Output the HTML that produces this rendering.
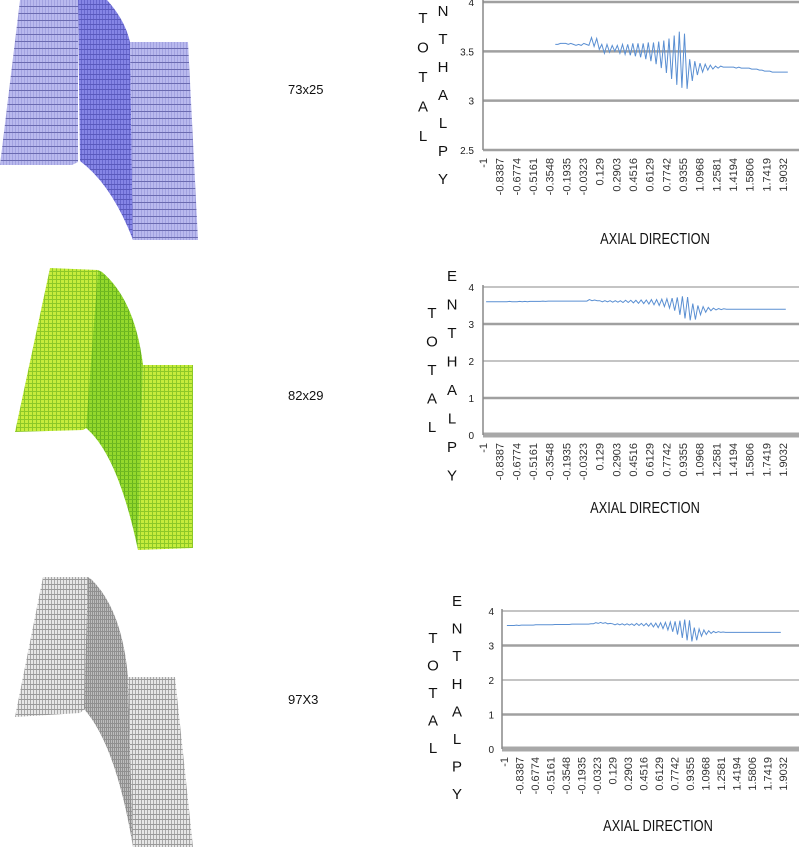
<!DOCTYPE html>
<html><head><meta charset="utf-8">
<style>
html,body{margin:0;padding:0;background:#fff;}
body{width:799px;height:855px;position:relative;overflow:hidden;font-family:"Liberation Sans",sans-serif;}
svg{position:absolute;left:0;top:0;}
.lbl{position:absolute;font-size:13px;color:#111;}
</style></head>
<body>
<svg width="799" height="855" id="fig">
<defs>
<pattern id="pBlue" width="3" height="7" patternUnits="userSpaceOnUse">
<rect width="3" height="7" fill="#b9b9ee"/><rect x="0" y="0" width="0.8" height="7" fill="#9c9cdc"/><rect x="0" y="6" width="3" height="1" fill="#6a6ab0"/></pattern>
<pattern id="pBlueR" width="3" height="5" patternUnits="userSpaceOnUse">
<rect width="3" height="5" fill="#8585e6"/><rect x="0" y="0" width="0.8" height="5" fill="#6060c8"/><rect x="0" y="4" width="3" height="1" fill="#5a5abc"/></pattern>
<pattern id="pGreen" width="4" height="4" patternUnits="userSpaceOnUse">
<rect width="4" height="4" fill="#c6ec3c"/><rect x="0" y="0" width="1" height="4" fill="#8cc828"/><rect x="0" y="3" width="4" height="1" fill="#8cc828"/></pattern>
<pattern id="pGreenR" width="4" height="4" patternUnits="userSpaceOnUse">
<rect width="4" height="4" fill="#94d82c"/><rect x="0" y="0" width="1" height="4" fill="#66b21e"/><rect x="0" y="3" width="4" height="1" fill="#70ba22"/></pattern>
<pattern id="pGray" width="3" height="5" patternUnits="userSpaceOnUse">
<rect width="3" height="5" fill="#e6e6e6"/><rect x="0" y="0" width="1" height="5" fill="#a8a8a8"/><rect x="0" y="4" width="3" height="1" fill="#9a9a9a"/></pattern>
<pattern id="pGrayR" width="2" height="4" patternUnits="userSpaceOnUse">
<rect width="2" height="4" fill="#bdbdbd"/><rect x="0" y="0" width="1" height="4" fill="#909090"/><rect x="0" y="3" width="2" height="1" fill="#909090"/></pattern>
</defs>
<g>
<path d="M20,0 L78,0 L78,162 L72,165 L0,165 Z" fill="url(#pBlue)"/>
<path d="M78,0 L107,0 Q125,20 130,42 L133,240 Q112,185 80,161 Z" fill="url(#pBlueR)"/>
<path d="M130,42 L188,42 L198,240 L133,240 Z" fill="url(#pBlue)"/>
</g>
<g>
<path d="M50,268 L98,270 L88,427 L83,430 L15,432 Z" fill="url(#pGreen)"/>
<path d="M98,270 L102,272 Q135,300 143,365 L138,550 Q118,455 86,428 Z" fill="url(#pGreenR)"/>
<path d="M143,365 L193,365 L193,548 L138,550 Z" fill="url(#pGreen)"/>
</g>
<g>
<path d="M43,577 L88,577 L86,708 L80,713 L15,717 Z" fill="url(#pGray)"/>
<path d="M88,577 L92,580 Q122,610 128,677 L133,847 Q116,745 84,709 Z" fill="url(#pGrayR)"/>
<path d="M128,677 L175,677 L193,847 L133,847 Z" fill="url(#pGray)"/>
</g>
<g id="charts"></g>
</svg>
<div class="lbl" style="left:288px;top:82px;">73x25</div>
<div class="lbl" style="left:288px;top:388px;">82x29</div>
<div class="lbl" style="left:288px;top:692px;">97X3</div>
<script>
const xTickLabels = ["-1","-0.8387","-0.6774","-0.5161","-0.3548","-0.1935","-0.0323","0.129","0.2903","0.4516","0.6129","0.7742","0.9355","1.0968","1.2581","1.4194","1.5806","1.7419","1.9032"];
const xTickValues = [-1,-0.8387,-0.6774,-0.5161,-0.3548,-0.1935,-0.0323,0.129,0.2903,0.4516,0.6129,0.7742,0.9355,1.0968,1.2581,1.4194,1.5806,1.7419,1.9032];
const c1YTicks = [2.5,3,3.5,4];
const c1YLabels = ["2.5","3","3.5","4"];
const c1Start = -0.3, c1Step = 0.025;
const c1Values = [3.57,3.57,3.58,3.58,3.58,3.57,3.58,3.57,3.56,3.57,3.56,3.58,3.57,3.56,
3.64,3.55,3.63,3.52,
3.57,3.48,3.57,3.49,3.56,3.50,3.56,3.48,3.57,3.47,3.57,3.46,3.58,3.45,3.58,3.44,3.58,
3.42,3.59,3.40,3.59,3.37,3.60,3.33,3.61,3.28,3.63,3.22,3.66,3.16,3.70,3.13,3.68,
3.12,3.42,3.20,3.40,3.26,3.38,3.29,3.37,3.31,3.36,3.32,3.35,3.33,3.35,3.34,3.34,3.34,
3.34,3.34,3.33,3.34,3.33,3.33,3.33,3.33,3.32,3.32,3.32,3.31,3.31,3.30,3.30,3.30,3.29,3.29,3.29,3.29,3.29,3.29,3.29];
const c2YTicks = [0,1,2,3,4];
const c2YLabels = ["0","1","2","3","4"];
const c2Start = -0.97, c2Step = 0.025;
const c2Values = [3.6,3.6,3.6,3.6,3.6,3.6,3.6,3.6,3.6,3.61,3.6,3.6,3.6,3.61,3.6,3.61,3.6,3.61,3.61,3.61,3.61,3.61,3.62,3.61,3.62,3.62,3.62,3.62,3.62,3.62,3.62,3.62,3.62,3.62,3.62,3.62,3.62,3.62,3.62,3.62,3.66,3.63,3.65,3.63,
3.63,3.60,3.63,3.60,3.63,3.59,3.63,3.59,3.63,3.58,3.64,3.58,3.64,3.57,3.64,3.56,3.65,3.55,3.65,3.54,3.66,3.52,3.66,3.50,3.67,3.47,3.68,3.43,3.70,3.36,3.72,3.25,3.75,3.15,3.73,
3.10,3.55,3.12,3.50,3.25,3.47,3.32,3.45,3.36,3.43,3.38,3.42,3.39,3.41,3.40,3.40,3.40,
3.40,3.40,3.40,3.40,3.40,3.40,3.40,3.40,3.40,3.40,3.40,3.40,3.40,3.40,3.40,3.40,3.40,3.40,3.40,3.40,3.40];
const c3YTicks = [0,1,2,3,4];
const c3YLabels = ["0","1","2","3","4"];
const c3Start = -0.97, c3Step = 0.025;
const c3Values = [3.58,3.58,3.58,3.58,3.59,3.58,3.59,3.59,3.59,3.59,3.59,3.59,3.6,3.6,3.6,3.6,3.6,3.6,3.6,3.6,3.61,3.61,3.61,3.61,3.61,3.61,3.61,3.62,3.62,3.62,3.62,3.62,3.62,3.62,3.62,3.63,3.63,3.66,3.64,3.67,3.64,3.66,3.63,3.64,
3.63,3.60,3.63,3.60,3.63,3.59,3.63,3.59,3.63,3.58,3.64,3.58,3.64,3.57,3.64,3.56,3.65,3.54,3.65,3.52,3.66,3.49,3.67,3.45,3.68,3.40,3.70,3.32,3.72,3.22,3.75,3.15,3.73,
3.12,3.52,3.15,3.48,3.27,3.45,3.32,3.43,3.35,3.41,3.37,3.40,3.38,3.39,3.38,3.38,3.38,
3.38,3.38,3.38,3.38,3.38,3.38,3.38,3.38,3.38,3.38,3.38,3.38,3.38,3.38,3.38,3.38,3.38,3.38,3.38,3.38,3.38];

const NS="http://www.w3.org/2000/svg";
const root=document.getElementById('charts');
function mk(tag,attrs,parent){const e=document.createElementNS(NS,tag);for(const k in attrs)e.setAttribute(k,attrs[k]);parent.appendChild(e);return e;}

function drawChart(o){
  const g=mk('g',{},root);
  
  
  const yMin=o.yTicks[0], yMax=o.yTicks[o.yTicks.length-1];
  const sy=v=>o.yBot-(v-yMin)/(yMax-yMin)*(o.yBot-o.yTop);
  const sx=v=>o.x0+(v-(-1))/(1.9032-(-1))*(o.x1-o.x0);
  o.yTicks.forEach((t,i)=>{
    const ln=mk('line',{x1:o.left,x2:799,y1:sy(t),y2:sy(t),stroke:(i==0&&o.thickBase)?'#a8a8a8':'#a0a0a0','stroke-width':(i==0&&o.thickBase)?5:(o.alt&&i%2==0?1.2:2.5)},g);
    
    
    const tx=mk('text',{x:o.yLabX,y:sy(t)+4,'font-size':10,'text-anchor':'end',fill:'#222'},g);
    tx.textContent=o.yLabels[i];
    
    
  });
  const ax=mk('line',{x1:o.left,x2:o.left,y1:o.yTop-2,y2:o.yBot,stroke:'#888','stroke-width':1.5},g);
  
  
  xTickValues.forEach((v,i)=>{
    const x=sx(v);
    const tx=mk('text',{x:0,y:0,'font-size':11,'text-anchor':'end',fill:'#333',transform:`translate(${x+4},${o.yBot+8}) rotate(-90)`},g);
    tx.textContent=xTickLabels[i];
    
    
  });
  let d='';
  o.values.forEach((v,i)=>{const x=sx(o.start+i*o.step);d+=(i?'L':'M')+x.toFixed(1)+','+sy(v).toFixed(1);});
  const p=mk('path',{d:d,fill:'none',stroke:'#5a8fd2','stroke-width':1},g);
  
  
  const t=mk('text',{x:0,y:0,'font-size':16,'text-anchor':'middle',fill:'#111',transform:`translate(${o.titleX},${o.titleY}) scale(0.8,1)`},g);
  t.textContent='AXIAL DIRECTION';
  
  
  const w1=mk('text',{x:o.t1x,y:0,'font-size':15,'text-anchor':'middle',fill:'#111'},g);
  
  
  'TOTAL'.split('').forEach((c,i)=>{const s=mk('tspan',{x:o.t1x,y:o.t1y+i*o.t1s},w1);s.textContent=c;});
  const w2=mk('text',{x:o.t2x,y:0,'font-size':15,'text-anchor':'middle',fill:'#111'},g);
  
  
  'ENTHALPY'.split('').forEach((c,i)=>{const s=mk('tspan',{x:o.t2x,y:o.t2y+i*o.t2s},w2);s.textContent=c;});
}
drawChart({name:'chart-73x25',values:c1Values,start:c1Start,step:c1Step,yTicks:c1YTicks,yLabels:c1YLabels,
  left:483,x0:483,x1:783,yTop:2,yBot:150,yLabX:474,titleX:655,titleY:244,
  t1x:423,t1y:23,t1s:29.5,t2x:443,t2y:-12,t2s:28});
drawChart({name:'chart-82x29',values:c2Values,start:c2Start,step:c2Step,yTicks:c2YTicks,yLabels:c2YLabels,thickBase:true,alt:true,
  left:483,x0:483,x1:783,yTop:287,yBot:435,yLabX:474,titleX:645,titleY:513,
  t1x:432,t1y:318,t1s:28.5,t2x:452,t2y:281,t2s:28.5});
drawChart({name:'chart-97x3',values:c3Values,start:c3Start,step:c3Step,yTicks:c3YTicks,yLabels:c3YLabels,thickBase:true,alt:true,
  left:502,x0:504,x1:783,yTop:611,yBot:749,yLabX:494,titleX:658,titleY:831,
  t1x:433,t1y:643,t1s:27.5,t2x:457,t2y:606,t2s:27.6});
</script>
</body></html>
